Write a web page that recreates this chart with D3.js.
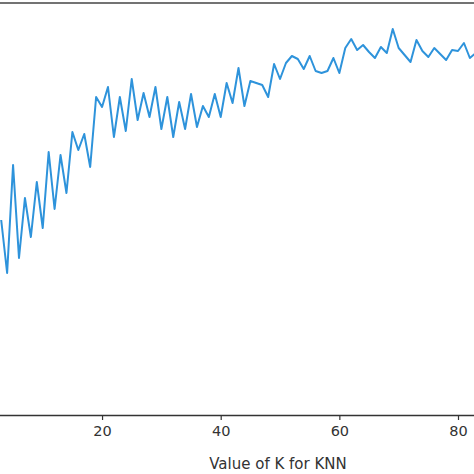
<!DOCTYPE html>
<html><head><meta charset="utf-8">
<script src="https://cdn.jsdelivr.net/npm/d3@7"></script>
<style>body{margin:0;background:#fff}svg{display:block}</style>
</head><body>
<svg id="c" width="474" height="474"></svg>
<script>
const kStart = 3;
const accuracy = [0.79,0.7635,0.8175,0.771,0.801,0.7815,0.809,0.786,0.824,0.7955,0.8225,0.8035,0.834,0.825,0.833,0.8165,0.8515,0.8465,0.8565,0.8315,0.8515,0.8345,0.8605,0.84,0.8535,0.8415,0.8565,0.8355,0.8515,0.8315,0.849,0.8355,0.853,0.8365,0.847,0.8415,0.853,0.8415,0.8585,0.8485,0.866,0.847,0.8595,0.8585,0.8575,0.8515,0.868,0.8605,0.8685,0.872,0.8705,0.8655,0.872,0.8645,0.8635,0.8645,0.871,0.8635,0.876,0.8805,0.875,0.8775,0.874,0.871,0.8765,0.8735,0.8855,0.876,0.8725,0.869,0.88,0.8745,0.8715,0.876,0.873,0.87,0.875,0.8745,0.8785,0.871,0.8735];
const xTicks = [20,40,60,80];
const xLabel = "Value of K for KNN";

const data = accuracy.map((v,i)=>({k:kStart+i, v}));
const svg = d3.select("#c");
const x = d3.scaleLinear().domain([0,80]).range([-16.6,458]);
const y = d3.scaleLinear().domain([0.6925,0.9]).range([415,0]);

svg.append("line").attr("x1",0).attr("x2",474).attr("y1",3).attr("y2",3)
  .attr("stroke","#444").attr("stroke-width",1.3);

svg.append("path").datum(data)
  .attr("fill","none").attr("stroke","#2e93db").attr("stroke-width",2)
  .attr("stroke-linejoin","round")
  .attr("d", d3.line().x(d=>x(d.k)).y(d=>y(d.v)));

const ax = svg.append("g").attr("transform","translate(0,415)")
  .call(d3.axisBottom(x).tickValues(xTicks).tickSize(5).tickPadding(6).tickFormat(d3.format("d")));
ax.select(".domain").attr("d","M0,0.5H474").attr("stroke","#333").attr("stroke-width",1.3);
ax.selectAll(".tick line").attr("stroke","#333").attr("stroke-width",1.2);
ax.selectAll(".tick text").attr("font-family","DejaVu Sans").attr("font-size",14.5).attr("fill","#333");

svg.append("text").attr("x",278).attr("y",469).attr("text-anchor","middle")
  .attr("font-family","DejaVu Sans").attr("font-size",15).attr("fill","#333").text(xLabel);
</script>
</body></html>
